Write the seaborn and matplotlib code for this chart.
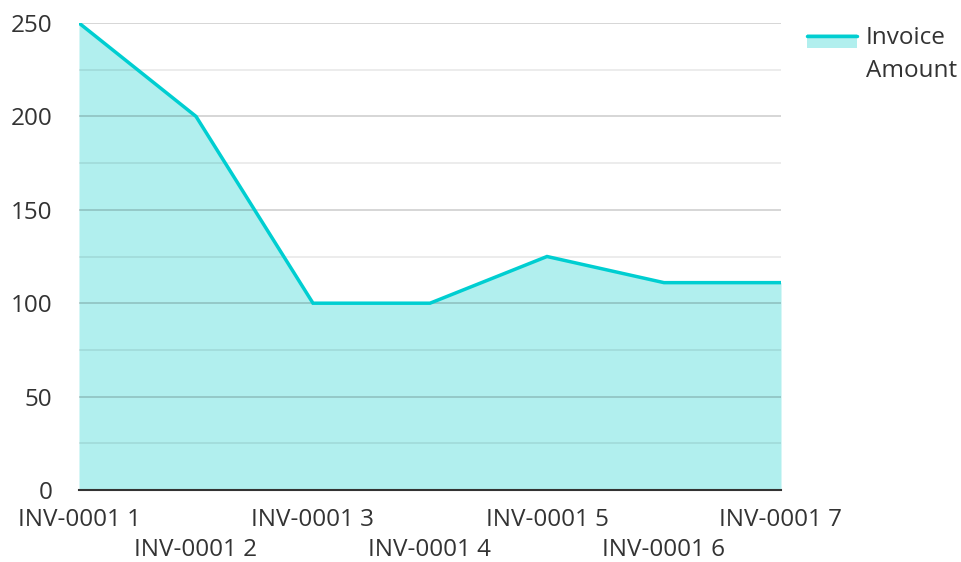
import matplotlib
matplotlib.use("Agg")
import matplotlib.pyplot as plt
import matplotlib.transforms as mtransforms
from matplotlib.patches import Rectangle
from matplotlib.lines import Line2D
import seaborn as sns
import pandas as pd

invoices = ["INV-0001 1", "INV-0001 2", "INV-0001 3", "INV-0001 4",
            "INV-0001 5", "INV-0001 6", "INV-0001 7"]
amounts = [250, 200, 100, 100, 125, 111, 111]
series_label = "Invoice\nAmount"

sns.set_theme(style="white")
plt.rcParams['font.family'] = ['Open Sans', 'Noto Sans', 'DejaVu Sans']

line_color = "#00CED1"
fill_color = "#B1EFEE"
text_color = "#333333"
FS = 17.5

df = pd.DataFrame({"pos": range(len(invoices)), "amount": amounts, "invoice": invoices})

W, H = 962, 562
fig = plt.figure(figsize=(W/100, H/100), dpi=100)
ax = fig.add_axes([79/W, 1-490/H, (781-79)/W, (490-23)/H])

ax.fill_between(df["pos"], df["amount"], 0, color=fill_color, linewidth=0, zorder=1)
sns.lineplot(data=df, x="pos", y="amount", ax=ax, color=line_color, linewidth=2.5,
             zorder=4, legend=False)
ax.lines[-1].set_solid_joinstyle("miter")

ax.set_xlim(0, len(invoices) - 1)
ax.set_ylim(0, 250)
ax.set_yticks([0, 50, 100, 150, 200, 250])
ax.set_yticks([25, 75, 125, 175, 225], minor=True)
ax.set_axisbelow(False)
ax.grid(axis="y", which="major", color="black", alpha=0.19, linewidth=1.2, zorder=2)
ax.grid(axis="y", which="minor", color="black", alpha=0.09, linewidth=1.2, zorder=2)
ax.grid(axis="x", visible=False)

ax.set_xticks(df["pos"])
ax.set_xticklabels(invoices)
ax.tick_params(axis="x", length=0, pad=13, labelsize=FS, labelcolor=text_color)
ax.tick_params(axis="y", which="both", length=0, pad=19, labelsize=FS, labelcolor=text_color)
for lab in ax.get_yticklabels():
    lab.set_horizontalalignment("right")
offset = mtransforms.ScaledTranslation(0, -30/100, fig.dpi_scale_trans)
for i, lab in enumerate(ax.get_xticklabels()):
    if i % 2 == 1:
        lab.set_transform(lab.get_transform() + offset)

ax.set_xlabel("")
ax.set_ylabel("")
for s in ["top", "right", "left"]:
    ax.spines[s].set_visible(False)
ax.spines["bottom"].set_color(text_color)
ax.spines["bottom"].set_linewidth(1.5)
ax.spines["bottom"].set_zorder(5)

# legend (area swatch with line on top, wrapped label)
fig.add_artist(Rectangle((807/W, 1-48/H), 50/W, 14/H, transform=fig.transFigure,
                         facecolor=fill_color, edgecolor="none"))
fig.add_artist(Line2D([807/W, 857/W], [1-35.5/H, 1-35.5/H], transform=fig.transFigure,
                      color=line_color, linewidth=2.5))
fig.text(866/W, 1-77/H, series_label, ha="left", va="baseline", fontsize=FS,
         color=text_color, linespacing=1.5)

fig.savefig("out.png", dpi=100)
